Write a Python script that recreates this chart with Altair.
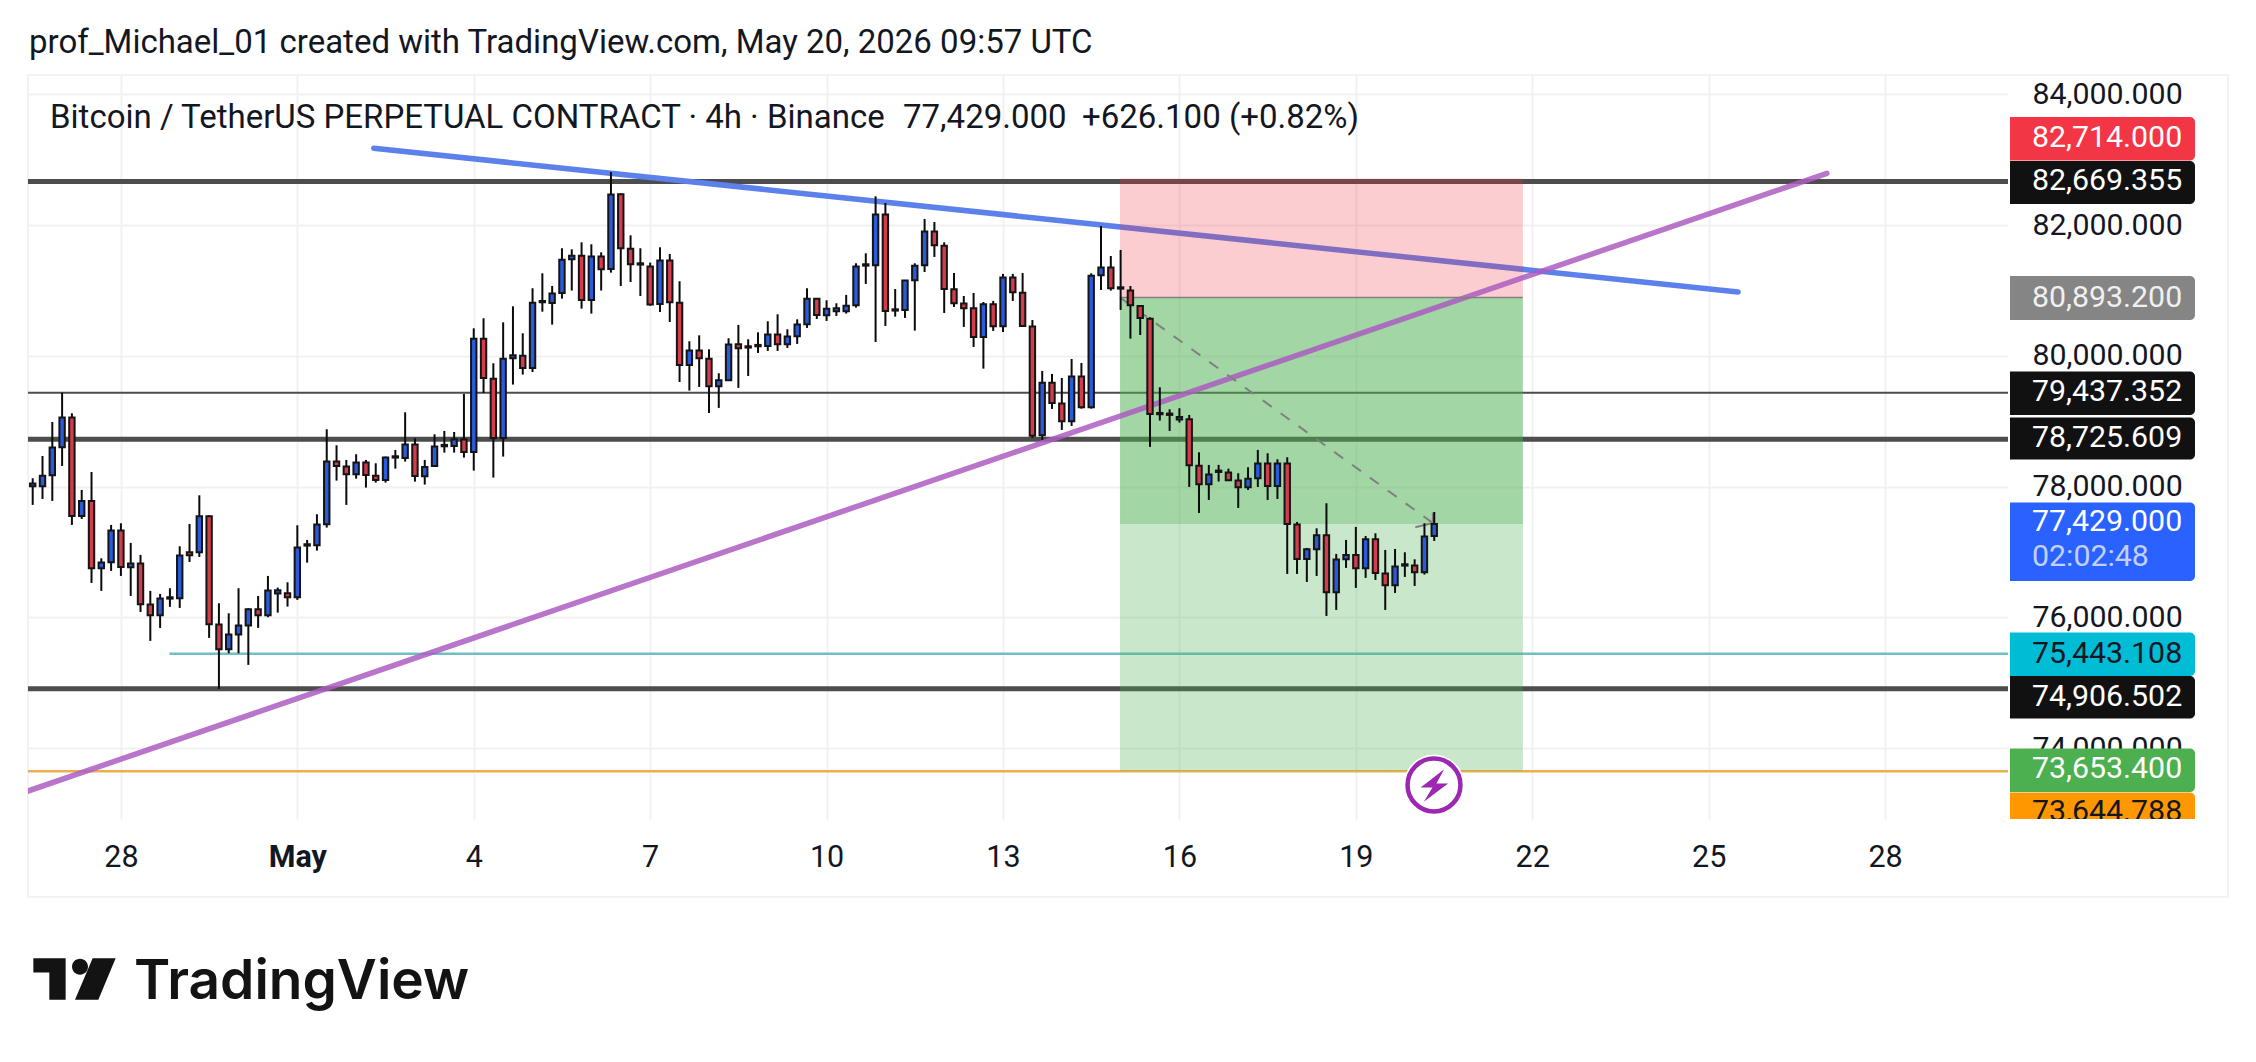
import altair as alt
import pandas as pd

FONT = "Roboto"
INK = "#131722"

# Candles (4h bars). Body limits, wicks and direction, bar by bar.
body_top = [
78046,78168,78597,79056,79056,77781,77781,76837,77327,77327,76822,76822,76195,76286,76307,76944,76995,77546,77546,75889,
75736,75873,76123,76123,76409,76414,76368,77067,77118,77419,78383,78383,78306,78367,78367,78168,78444,78464,78643,78643,
78301,78612,78638,78719,78719,80264,80264,79652,79958,80009,80004,80815,80841,80953,81473,81534,81534,81519,81519,82468,
82473,81641,81417,81366,81458,81458,80815,80081,80081,79958,79627,80173,80178,80147,80168,80326,80326,80295,80479,80876,
80876,80723,80728,80769,81366,81402,82162,82162,80713,81152,81381,81902,81902,81687,81019,80800,80729,80790,80790,81198,
81198,80968,80448,79591,79591,79270,79683,79683,81228,81351,81351,81050,80999,80764,80570,79127,79117,79066,79030,78321,
78184,78245,78214,78092,78122,78352,78352,78352,78352,77419,77041,77255,77255,76883,76955,76955,77194,77194,76669,76776,
76812,76791,77235,77429]
body_bottom = [
78005,78005,78173,78602,77551,77551,76751,76751,76842,76771,76766,76200,76031,76031,76286,76291,76949,76995,75894,75511,
75511,75736,75873,76031,76031,76363,76307,76307,77097,77102,77424,78316,78189,78189,78179,78102,78102,78444,78439,78163,
78158,78316,78617,78622,78530,78530,79663,78745,78745,79963,79816,79816,80820,80810,80963,81478,80856,80856,81325,81330,
81647,81402,81397,80785,80795,80820,79862,79862,79964,79535,79535,79627,80117,80127,80147,80152,80178,80178,80300,80484,
80627,80622,80683,80683,80774,81381,81386,80688,80693,80703,81157,81386,81692,81024,80805,80729,80290,80290,80453,80453,
80973,80458,78780,78785,79280,78999,78999,79214,79214,81234,81035,81029,80774,80581,79112,79107,79097,79025,78326,78036,
78036,78224,78097,77990,77990,78127,78010,78010,77429,76893,76893,77041,76383,76383,76888,76751,76751,76679,76490,76490,
76791,76689,76689,77245]
wick_high = [
78128,78469,78989,79438,79122,77949,78224,76903,77414,77439,77138,76955,76404,76358,76445,77087,77429,77867,77561,76215,
76062,76445,76139,76327,76633,76455,76536,77408,77184,77577,78877,78632,78408,78495,78408,78357,78459,78561,79137,78740,
78408,78801,78852,78836,79418,80422,80576,79887,80514,80759,80346,81035,81264,81070,81647,81631,81738,81708,81585,82814,
82488,81845,81647,81427,81662,81560,81142,80224,80315,80101,79734,80270,80474,80254,80361,80530,80637,80407,80560,81035,
80881,80851,80805,80933,81417,81570,82442,82340,81024,81152,81417,82095,82049,81738,81269,80917,80963,80825,80841,81254,
81254,81269,80550,79770,79724,79663,79953,79892,81264,81988,81529,81621,81070,80774,80591,79520,79183,79199,79097,78525,
78332,78332,78275,78204,78296,78561,78510,78418,78449,77459,77062,77362,77745,76970,77184,77383,77245,77286,77031,77046,
76995,76888,77439,77612]
wick_low = [
77720,77811,77781,78316,77414,77505,76526,76404,76710,76633,76327,76082,75639,75838,76159,76144,76847,76924,75685,74905,
75450,75450,75272,75838,76001,76072,76164,76266,76837,77021,77373,78092,77720,78122,77985,78061,78061,78275,78383,78076,
78031,78306,78520,78520,78444,78245,79433,78138,78459,79561,79714,79754,80677,80479,80876,81000,80723,80647,81000,81274,
81070,81131,80917,80769,80672,80519,79601,79469,79525,79127,79204,79622,79510,79693,80045,80076,80076,80122,80183,80428,
80565,80535,80611,80647,80739,81101,80213,80458,80601,80581,80387,81284,81514,80657,80749,80443,80137,79805,80382,80366,
80841,80453,78745,78714,79188,78867,78928,79193,79193,81009,80999,80703,80264,80320,78607,79010,78852,78979,77995,77597,
77796,78077,78092,77674,77949,77995,77796,77811,76664,76664,76541,76633,76021,76113,76756,76450,76603,76572,76113,76373,
76618,76480,76654,77169]
bar_direction = (
"uuuududuududdu" "uu" "d" "u" "dd" "uuu" "du"
"ud" "uuuu" "dd" "u" "dd" "uuu" "d" "uuuu" "d" "u" "dd" "uu" "d" "uuuuu" "d" "u" "d"
"u" "dd" "u" "d" "u" "dd" "u" "dd" "uu" "d" "uuu" "d" "uuu" "d" "uuuuuu"
"d" "uuuu" "ddddd" "u" "d" "u" "ddd" "u" "dd" "u" "d" "uu" "d" "u" "ddd" "uuu" "dd" "uu"
"dd" "uu" "d" "u" "dd" "uu" "d" "uu" "d" "u" "dd" "uu" "d" "uu"
)
bar_start_day = -1.5          # days from Apr 28 (first bar)
bars_per_day = 6

# Drawn levels and tools
heavy_levels = [82669.355, 78725.609, 74906.502]
thin_levels = [79437.352]
teal_level = 75443.108
teal_start_day = 0.825
orange_level = 73644.788
stop_price, entry_price, last_price, target_price = 82714.0, 80893.2, 77429.0, 73653.4
tool_start_day, tool_end_day = 16.99, 23.84
blue_days, blue_prices = [4.30, 27.5], [83177, 80978]
purple_days, purple_prices = [-1.58, 29.01], [73342, 82793]
path_days, path_prices = [16.99, 22.31], [80893.2, 77443]
arrow_days = [[22.01, 22.31], [22.31, 22.31]]
arrow_prices = [[77377, 77443], [77601, 77443]]

# Axis
price_ticks = [84000, 82000, 80000, 78000, 76000, 74000]
day_ticks = list(range(0, 31, 3))
day_names = ["28", "May", "4", "7", "10", "13", "16", "19", "22", "25", "28"]

# Price-scale tags
tag_text = ["82,714.000", "82,669.355", "80,893.200", "79,437.352", "78,725.609", "77,429.000",
            "75,443.108", "74,906.502", "73,653.400", "73,644.788"]
tag_fill = ["#f23645", "#111111", "#858585", "#111111", "#111111", "#2962ff", "#00bcd4", "#111111", "#4caf50", "#ff9800"]
tag_ink = ["#ffffff", "#ffffff", "#f0f0f0", "#ffffff", "#ffffff", "#ffffff", "#131722", "#ffffff", "#ffffff", "#131722"]
tag_top = [117, 161, 276, 371.5, 417.5, 502.5, 632.5, 676, 748.5, 792.5]
tag_bottom = [160.5, 204, 320, 415, 459.5, 581, 676, 718.5, 792, 836]
tag_mid = [138, 181, 298, 391.5, 437.5, 522, 654, 697, 769, 812]

W, H = 1980, 744
OX, OY = 28, 75   # page position of the pane, used to place decoration given in page pixels
xs = alt.Scale(domain=[-1.58, 32.09], nice=False, zero=False, padding=0)
ys = alt.Scale(domain=[72914, 84298], nice=False, zero=False)

lbl = "{" + ",".join(f"{d}:'{n}'" for d, n in zip(day_ticks, day_names)) + "}"
x_axis = alt.Axis(values=day_ticks, title=None, labelExpr=f"{lbl}[datum.value]",
                  labelFont=FONT, labelFontSize=30.5, labelColor=INK, labelPadding=38, labelBaseline="middle",
                  labelFontWeight={"condition": {"test": "datum.value == 3", "value": "bold"}, "value": "normal"},
                  ticks=False, domain=False, grid=True, gridColor="#f1f1f1", gridWidth=2, labelFlush=False)
y_axis = alt.Axis(values=price_ticks, title=None, orient="right", format=",.3f",
                  labelFont=FONT, labelFontSize=30.3, labelColor=INK, labelPadding=24,
                  ticks=False, domain=False, grid=True, gridColor="#f1f1f1", gridWidth=2)

def X(f):
    return alt.X(f, type="quantitative", scale=xs, axis=x_axis)
def Y(f):
    return alt.Y(f, type="quantitative", scale=ys, axis=y_axis)

def level_layer(prices, start, color, width):
    d = pd.DataFrame({"price": prices, "a": start, "b": 32.09})
    return alt.Chart(d).mark_rule(color=color, strokeWidth=width, clip=True).encode(
        x=X("a"), x2="b", y=Y("price"))

def seg(days, prices, color, width, dash=None, cap="butt", op=1):
    d = pd.DataFrame({"day": days, "price": prices})
    kw = {"strokeDash": dash} if dash else {}
    return alt.Chart(d).mark_line(color=color, strokeWidth=width, strokeCap=cap, clip=True, opacity=op, **kw).encode(
        x=X("day"), y=Y("price"))

def box(p1, p2, color, op):
    d = pd.DataFrame({"a": [tool_start_day], "b": [tool_end_day], "p1": [p1], "p2": [p2]})
    return alt.Chart(d).mark_rect(color=color, opacity=op).encode(x=X("a"), x2="b", y=Y("p1"), y2="p2")

def label(text, px, py, size=33, color=INK, weight="normal", font=FONT):
    return alt.Chart(pd.DataFrame({"t": [text]})).mark_text(
        align="left", baseline="middle", fontSize=size, color=color, fontWeight=weight, font=font
    ).encode(x=alt.value(px - OX), y=alt.value(py - OY), text="t:N")

# axes + grid come with this base layer
base = alt.Chart(pd.DataFrame({"day": [0], "price": [80000]})).mark_point(opacity=0).encode(
    x=X("day"), y=Y("price"))

candles = pd.DataFrame({
    "day": [bar_start_day + i / bars_per_day for i in range(len(body_top))],
    "top": body_top, "bottom": body_bottom, "high": wick_high, "low": wick_low,
    "dir": list(bar_direction),
})
wicks = alt.Chart(candles).mark_rule(color="#0b0b0b", strokeWidth=2).encode(x=X("day"), y=Y("high"), y2="low")
bodies = alt.Chart(candles).mark_bar(size=5.4, stroke="#141414", strokeWidth=2).encode(
    x=X("day"), y=Y("top"), y2="bottom",
    fill=alt.Fill("dir:N", scale=alt.Scale(domain=["u", "d"], range=["#2a5bdc", "#d23c4b"]), legend=None))

tags = pd.DataFrame({"t": tag_text, "fill": tag_fill, "ink": tag_ink,
                     "top": [v - OY for v in tag_top], "bot": [v - OY for v in tag_bottom],
                     "mid": [v - OY for v in tag_mid]})
tag_boxes = alt.Chart(tags).mark_rect(cornerRadiusTopRight=5, cornerRadiusBottomRight=5).encode(
    x=alt.value(2010 - OX), x2=alt.value(2195 - OX),
    y=alt.Y("top:Q", scale=None), y2="bot:Q",
    fill=alt.Fill("fill:N", scale=None))
tag_texts = alt.Chart(tags).mark_text(align="left", baseline="middle", fontSize=30.3, font=FONT).encode(
    x=alt.value(2032 - OX), y=alt.Y("mid:Q", scale=None), text="t:N", color=alt.Color("ink:N", scale=None))

def deco_point(px, py, shape, size, **kw):
    return alt.Chart(pd.DataFrame({"k": [0]})).mark_point(shape=shape, size=size, **kw).encode(
        x=alt.value(px - OX), y=alt.value(py - OY))

logo_path = ("M-1,-.506L-.215,-.506L-.215,.506L-.612,.506L-.612,-.158L-1,-.158Z"
             "M-.06,-.30A.194,.194 0 1,0 .328,-.30A.194,.194 0 1,0 -.06,-.30Z"
             "M.441,-.506L1,-.506L.579,.506L.012,.506Z")
bolt_path = "M.72,-1.11L-.94,.17L-.11,.17L-.72,1.19L1,-.11L.17,-.11Z"

frame = alt.Chart(pd.DataFrame({"k": [0]})).mark_rect(fill="transparent", stroke="#f2f2f2", strokeWidth=2).encode(
    x=alt.value(0), x2=alt.value(2228 - OX), y=alt.value(0), y2=alt.value(897 - OY))
tag_mask = alt.Chart(pd.DataFrame({"k": [0]})).mark_rect(fill="#ffffff").encode(
    x=alt.value(2005 - OX), x2=alt.value(2200 - OX), y=alt.value(819 - OY), y2=alt.value(845 - OY))

chart = alt.layer(
    base,
    frame,
    level_layer(heavy_levels, -1.58, "#4d4d4d", 5),
    level_layer(thin_levels, -1.58, "#4d4d4d", 2),
    level_layer([teal_level], teal_start_day, "#70bfc6", 2.5),
    level_layer([orange_level], -1.58, "#e8b04f", 2.5),
    seg(blue_days, blue_prices, "#5c81ea", 5.5, cap="round"),
    box(stop_price, entry_price, "#f23645", 0.25),
    box(entry_price, target_price, "#4caf50", 0.3),
    box(entry_price, last_price, "#4caf50", 0.3),
    seg(purple_days, purple_prices, "#ac5dbf", 5.5, cap="round", op=0.85),
    alt.Chart(pd.DataFrame({"a": [tool_start_day], "b": [tool_end_day], "p": [entry_price]})).mark_rule(
        color="#808080", strokeWidth=1.5).encode(x=X("a"), x2="b", y=Y("p")),
    seg(path_days, path_prices, "#808080", 2, dash=[11, 11]),
    seg(arrow_days[0], arrow_prices[0], "#808080", 2),
    seg(arrow_days[1], arrow_prices[1], "#808080", 2),
    wicks,
    bodies,
    deco_point(1434, 785, "circle", 3700, filled=True, color="#ffffff", opacity=1),
    deco_point(1434, 785, "circle", 2800, filled=False, color="#9c27b0", strokeWidth=4.5, opacity=1),
    deco_point(1434, 785, bolt_path, 800, filled=True, color="#9c27b0", opacity=1),
    tag_boxes,
    tag_texts,
    label("02:02:48", 2032, 557, size=30.3, color="#c3d0ff"),
    tag_mask,
    label("prof_Michael_01 created with TradingView.com, May 20, 2026 09:57 UTC", 29, 43),
    label("Bitcoin / TetherUS PERPETUAL CONTRACT · 4h · Binance", 50, 118),
    label("77,429.000", 903, 118),
    label("+626.100 (+0.82%)", 1082, 118),
    deco_point(74.5, 979, logo_path, 6773, filled=True, color="#131313", opacity=1),
    label("TradingView", 134, 982, size=55, color="#131313", weight=600, font="Inter"),
).properties(
    width=W, height=H,
    padding={"left": OX - 8, "top": OY - 8, "right": 225, "bottom": 225},
    autosize=alt.AutoSizeParams(type="none"),
    background="#ffffff",
).configure_view(stroke=None)

chart.save("out.html", embed_options={"renderer": "svg", "actions": False})
